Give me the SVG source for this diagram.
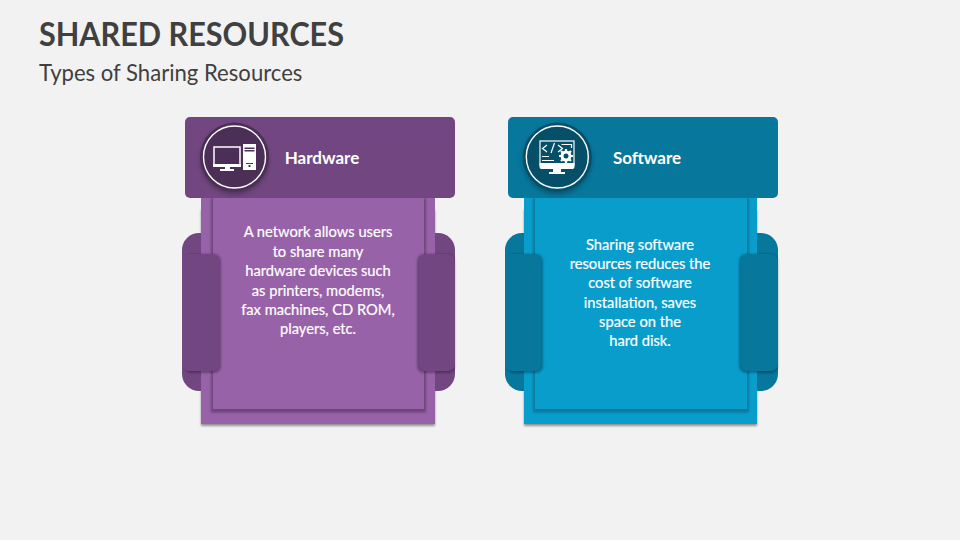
<svg xmlns="http://www.w3.org/2000/svg" width="960" height="540" viewBox="0 0 960 540">
<style>
text{font-family:"Lato","Carlito","Liberation Sans",sans-serif}
.title{font-size:32px;font-weight:700;fill:#404040}
.sub{font-size:22.100px;fill:#404040}
.head{font-size:17px;font-weight:700;fill:#fff;text-anchor:middle}
.body{font-size:14.700px;fill:#fff;text-anchor:middle;stroke:#fff;stroke-width:.2}
.ring{fill:none;stroke:#fff;stroke-width:1.4}
.w{fill:#fff}
.l{fill:none;stroke:#fff}
.p1{fill:#724781}.p2{fill:#9762A8}.p3{fill:#4B2F56}.p5{fill:#6C4479}
.b1{fill:#07779C}.b2{fill:#099DCC}.b3{fill:#054F68}.b5{fill:#07779C}
</style>
<defs>
<filter id="sh" x="-10%" y="-10%" width="120%" height="120%"><feGaussianBlur stdDeviation="1.2"/></filter>
<filter id="sh1" x="-5%" y="-5%" width="110%" height="110%"><feGaussianBlur stdDeviation=".8"/></filter>
<filter id="sh2" x="-30%" y="-30%" width="160%" height="160%"><feGaussianBlur stdDeviation="2.500"/></filter>
</defs>
<rect width="960" height="540" fill="#F2F2F2"/>
<g id="heading">
<text class="title" x="39" y="45.500" textLength="305" lengthAdjust="spacingAndGlyphs">SHARED RESOURCES</text>
<text class="sub" x="39" y="81">Types of Sharing Resources</text>
</g>
<g id="hardware">
<rect x="201" y="210" width="234" height="216" fill="#000" opacity=".4" filter="url(#sh)"/>
<rect class="p1" x="182" y="233" width="273" height="158" rx="17"/>
<rect class="p2" x="201" y="198" width="234" height="226"/>
<rect class="p5" x="211" y="198" width="215" height="214.500" filter="url(#sh1)"/>
<rect class="p2" x="213" y="198" width="211" height="211"/>
<rect x="184" y="254" width="37" height="119" rx="7" fill="#000" opacity=".3" filter="url(#sh)"/>
<rect x="417" y="254" width="38" height="119" rx="7" fill="#000" opacity=".3" filter="url(#sh)"/>
<rect class="p1" x="182" y="254" width="37" height="117" rx="7"/>
<rect class="p1" x="419" y="254" width="36" height="117" rx="7"/>
<rect class="p1" x="185" y="117" width="270" height="81" rx="5"/>
<circle cx="234.500" cy="160" r="34" fill="#000" opacity=".3" filter="url(#sh2)"/>
<circle class="p3" cx="234.500" cy="157" r="34.500"/>
<circle class="ring" cx="234.500" cy="157" r="31"/>
<g id="hardware-icon">
<rect x="214" y="147" width="26" height="18" fill="none" stroke="#fff" stroke-width="1.500"/>
<rect x="213" y="164" width="28" height="3" class="w"/>
<rect x="225" y="167" width="5" height="2" class="w"/>
<rect x="220" y="169" width="14" height="2" class="w"/>
<path class="w" fill-rule="evenodd" d="M243 144h13v26h-13zM244.500 147.500v1.500h10v-1.500zM244.500 150v1.500h10V150zM246 163v1h7v-1zM248.500 165v2h2v-2z"/>
</g>
<text class="head" x="322" y="163.500">Hardware</text>
<text class="body"><tspan x="318" y="237">A network allows users</tspan><tspan x="318" y="257">to share many</tspan><tspan x="318" y="276">hardware devices such</tspan><tspan x="318" y="296">as printers, modems,</tspan><tspan x="318" y="315">fax machines, CD ROM,</tspan><tspan x="318" y="334">players, etc.</tspan></text>
</g>
<g id="software">
<rect x="524" y="210" width="233" height="216" fill="#000" opacity=".4" filter="url(#sh)"/>
<rect class="b1" x="505" y="233" width="273" height="158" rx="17"/>
<rect class="b2" x="524" y="198" width="233" height="226"/>
<rect class="b5" x="533" y="198" width="216" height="214.500" filter="url(#sh1)"/>
<rect class="b2" x="535" y="198" width="212" height="211"/>
<rect x="507" y="254" width="36" height="119" rx="7" fill="#000" opacity=".3" filter="url(#sh)"/>
<rect x="739" y="254" width="39" height="119" rx="7" fill="#000" opacity=".3" filter="url(#sh)"/>
<rect class="b1" x="505" y="254" width="36" height="117" rx="7"/>
<rect class="b1" x="741" y="254" width="37" height="117" rx="7"/>
<rect class="b1" x="508" y="117" width="270" height="81" rx="5"/>
<circle cx="557.300" cy="160" r="34" fill="#000" opacity=".3" filter="url(#sh2)"/>
<circle class="b3" cx="557.300" cy="157" r="34.500"/>
<circle class="ring" cx="557.300" cy="157" r="31"/>
<g id="software-icon">
<rect x="540" y="141" width="34" height="24" fill="none" stroke="#fff" stroke-width="1.200"/>
<path class="w" d="M539.500 163h35v4q0 2-2 2h-31q-2 0-2-2z"/>
<rect x="553" y="169" width="8" height="3" class="w"/>
<rect x="549" y="172" width="16" height="2" class="w"/>
<path class="l" stroke-width="1.200" d="M547 145l-4.500 3.500 4.500 3.500M551 153l3.500-10M558 145l4.500 3.500-4.500 3.500M561.500 144.500h10V148M542 156.500h7M542 160.500h12"/>
<circle cx="566" cy="156" r="4" fill="none" stroke="#fff" stroke-width="3"/>
<path class="l" stroke-width="2.200" d="M566 149v2.500M566 160.500v2.500M559 156h2.500M570.500 156h2.500M561 151l1.800 1.800M569.200 159.200l1.800 1.800M571 151l-1.800 1.800M562.800 159.200l-1.800 1.800"/>
</g>
<text class="head" x="647" y="163.500">Software</text>
<text class="body"><tspan x="640" y="250">Sharing software</tspan><tspan x="640" y="269">resources reduces the</tspan><tspan x="640" y="288">cost of software</tspan><tspan x="640" y="308">installation, saves</tspan><tspan x="640" y="327">space on the</tspan><tspan x="640" y="346">hard disk.</tspan></text>
</g>
</svg>
